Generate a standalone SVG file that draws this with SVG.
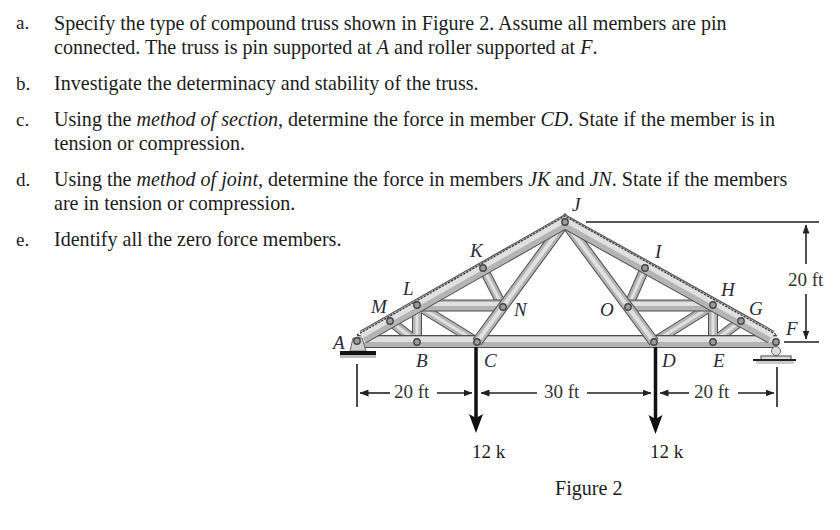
<svg xmlns="http://www.w3.org/2000/svg" width="840" height="530" viewBox="0 0 840 530">
<style>
text{font-family:"Liberation Serif","Times New Roman",serif;fill:#1c1c1c}
.q{font-size:20.07px}
.n{font-size:19px}
.d{font-size:19px;fill:#333}
.k{font-size:19px}
.l{font-size:19px;font-style:italic;fill:#2a2a3a}
.o{stroke:#4e4e4e;fill:none;stroke-linecap:butt}
.i{stroke:#b4b4b4;fill:none;stroke-linecap:butt}
.h{stroke:#e0e0e0;fill:none;stroke-linecap:butt}
.dim{stroke:#222;stroke-width:1.6;fill:none}
.load{stroke:#111;stroke-width:3.5;fill:none}
.pin{fill:#9a9a9a;stroke:#444;stroke-width:1.4}
</style>
<defs>
<marker id="a" markerWidth="9" markerHeight="7" refX="8.5" refY="3.5" orient="auto" markerUnits="userSpaceOnUse"><path d="M0 0L9 3.5L0 7z" fill="#222"/></marker>
<marker id="b" markerWidth="20" markerHeight="16" refX="10" refY="8" orient="auto" markerUnits="userSpaceOnUse"><path d="M0 1L19 8L0 15L4 8z" fill="#111"/></marker>
<circle id="p" r="3.2" class="pin"/>
</defs>
<rect width="840" height="530" fill="#fff"/>
<g id="question">
<text class="n" x="16" y="29">a.</text>
<text class="q" x="54" y="30">Specify the type of compound truss shown in Figure 2. Assume all members are pin</text>
<text class="q" x="54" y="54">connected. The truss is pin supported at <tspan font-style="italic">A</tspan> and roller supported at <tspan font-style="italic">F</tspan>.</text>
<text class="n" x="16" y="90">b.</text>
<text class="q" x="54" y="90">Investigate the determinacy and stability of the truss.</text>
<text class="n" x="16" y="126">c.</text>
<text class="q" x="54" y="126">Using the <tspan font-style="italic">method of section</tspan>, determine the force in member <tspan font-style="italic">CD</tspan>. State if the member is in</text>
<text class="q" x="54" y="150">tension or compression.</text>
<text class="n" x="16" y="186">d.</text>
<text class="q" x="54" y="186">Using the <tspan font-style="italic">method of joint</tspan>, determine the force in members <tspan font-style="italic">JK</tspan> and <tspan font-style="italic">JN</tspan>. State if the members</text>
<text class="q" x="54" y="210">are in tension or compression.</text>
<text class="n" x="16" y="246">e.</text>
<text class="q" x="54" y="246">Identify all the zero force members.</text>
</g>
<g id="connectors">
<g id="web-back">
<path class="o" stroke-width="10" d="M417 305L417 342M713 305L713 342M390 321L417 342M741 321L713 342M483 268L503 307M645 268L628 307M417 305L477 342M713 305L654 342"/>
<path class="i" stroke-width="8" d="M417 305L417 342M713 305L713 342M390 321L417 342M741 321L713 342M483 268L503 307M645 268L628 307M417 305L477 342M713 305L654 342"/>
<path class="h" stroke-width="3" d="M417 305L417 342M713 305L713 342M390 321L417 342M741 321L713 342M483 268L503 307M645 268L628 307M417 305L477 342M713 305L654 342"/>
<path class="o" stroke-width="12" d="M417 305.500L503 305.500M628 305.500L713 305.500"/>
<path class="i" stroke-width="10" d="M417 305.500L503 305.500M628 305.500L713 305.500"/>
<path class="h" stroke-width="4" d="M417 304L503 304M628 304L713 304"/>
</g>
<g id="chord">
<path class="o" stroke-width="13" d="M357 341.500L777 341.500"/>
<path class="i" stroke-width="11" d="M357 341.500L777 341.500"/>
<path class="h" stroke-width="5" d="M357 339.500L777 339.500"/>
</g>
<g id="rafter">
<path class="o" stroke-width="11" d="M477 342L565 222L654 342"/>
<path class="i" stroke-width="9" d="M477 342L565 222L654 342"/>
<path class="h" stroke-width="4" d="M477 342L565 222L654 342"/>
<path class="o" stroke-width="14" d="M363 337L565 222L771 337"/>
<path class="i" stroke-width="12" d="M363 337L565 222L771 337"/>
<path class="h" stroke-width="5" d="M361 336L565 220L773 336"/>
<path fill="none" stroke="#333" stroke-width="1.200" stroke-dasharray="2 1.5" d="M357 335L565 216L777 335"/>
</g>
<g id="dimensions">
<path class="dim" d="M357 364V407M777 367V407"/>
<path class="dim" marker-end="url(#a)" d="M390 393H360"/>
<path class="dim" marker-end="url(#a)" d="M437 393H472"/>
<path class="dim" marker-end="url(#a)" d="M537 393H481"/>
<path class="dim" marker-end="url(#a)" d="M587 393H651"/>
<path class="dim" marker-end="url(#a)" d="M689 393H660"/>
<path class="dim" marker-end="url(#a)" d="M738 393H774"/>
<path class="dim" d="M586 222H819M784 342H819"/>
<path class="dim" marker-end="url(#a)" d="M806 264V225"/>
<path class="dim" marker-end="url(#a)" d="M806 294V339"/>
</g>
<g id="loads">
<path class="load" marker-end="url(#b)" d="M476 347V424"/>
<path class="load" marker-end="url(#b)" d="M655.500 347V425"/>
</g>
</g>
<g id="support-A">
<path d="M350 351L353 338H362L366 351Z" fill="#cfcfcf" stroke="#666"/>
<rect x="340" y="351" width="36" height="4" fill="#111"/>
<rect x="340" y="355" width="36" height="3" fill="#bbb"/>
</g>
<g id="support-F">
<circle cx="776" cy="351" r="4.500" fill="#ddd" stroke="#666"/>
<rect x="761" y="356" width="30" height="4" fill="#ddd" stroke="#444"/>
<path d="M753 360H796" stroke="#222" stroke-width="2"/>
<rect x="756" y="361" width="38" height="3" fill="#ccc"/>
</g>
<g id="node-A"><use href="#p" x="357" y="341"/><text class="l" x="333" y="349">A</text></g>
<g id="node-B"><use href="#p" x="417" y="342"/><text class="l" x="416" y="367">B</text></g>
<g id="node-C"><use href="#p" x="477" y="342"/><text class="l" x="484" y="367">C</text></g>
<g id="node-D"><use href="#p" x="654" y="342"/><text class="l" x="662" y="367">D</text></g>
<g id="node-E"><use href="#p" x="713" y="342"/><text class="l" x="713" y="367">E</text></g>
<g id="node-F"><use href="#p" x="776" y="342"/><text class="l" x="786" y="335">F</text></g>
<g id="node-G"><use href="#p" x="741" y="321"/><text class="l" x="749" y="315">G</text></g>
<g id="node-H"><use href="#p" x="713" y="305"/><text class="l" x="721" y="296">H</text></g>
<g id="node-I"><use href="#p" x="645" y="268"/><text class="l" x="655" y="258">I</text></g>
<g id="node-J"><use href="#p" x="565" y="222"/><text class="l" x="572" y="211">J</text></g>
<g id="node-K"><use href="#p" x="483" y="268"/><text class="l" x="470" y="257">K</text></g>
<g id="node-L"><use href="#p" x="417" y="305"/><text class="l" x="403" y="295">L</text></g>
<g id="node-M"><use href="#p" x="390" y="321"/><text class="l" x="371" y="313">M</text></g>
<g id="node-N"><use href="#p" x="503" y="307"/><text class="l" x="514" y="316">N</text></g>
<g id="node-O"><use href="#p" x="628" y="307"/><text class="l" x="600" y="316">O</text></g>
<g id="labels">
<text class="d" x="394" y="398">20 ft</text>
<text class="d" x="544" y="398">30 ft</text>
<text class="d" x="694" y="398">20 ft</text>
<text class="d" x="788" y="286">20 ft</text>
<text class="k" x="472" y="458">12 k</text>
<text class="k" x="650" y="458">12 k</text>
<text class="q" x="555" y="495">Figure 2</text>
</g>
</svg>
